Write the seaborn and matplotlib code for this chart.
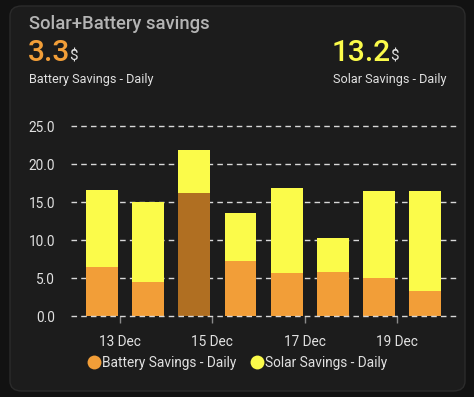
"""Solar + battery daily savings card, stacked bars on a dark dashboard theme."""

import pandas as pd
import matplotlib.pyplot as plt
from matplotlib.patches import FancyBboxPatch
from matplotlib.lines import Line2D
import seaborn as sns

# data
days = ["12 Dec", "13 Dec", "14 Dec", "15 Dec", "16 Dec", "17 Dec", "18 Dec", "19 Dec"]
battery = [6.4, 4.5, 16.2, 7.3, 5.6, 5.8, 5.0, 3.3]
solar = [10.2, 10.5, 5.6, 6.2, 11.2, 4.5, 11.5, 13.2]
tick_days = ["13 Dec", "15 Dec", "17 Dec", "19 Dec"]
y_ticks = [0, 5, 10, 15, 20, 25]
highlight_day = "14 Dec"

ORANGE = "#f29e38"
YELLOW = "#fbfb4a"
DARK = "#b06f22"
BG = "#121212"
CARD = "#1c1c1c"
TEXT = "#e1e1e1"

df = pd.DataFrame({"day": days, "battery": battery, "solar": solar})
df["total"] = df["battery"] + df["solar"]

sns.set_theme(style="dark")
plt.rcParams["font.family"] = ["Roboto", "DejaVu Sans"]

fig = plt.figure(figsize=(4.74, 3.97), dpi=100, facecolor=BG)

# card background
card = FancyBboxPatch((10 / 474, 6 / 397), 455 / 474, 385 / 397,
                      boxstyle="round,pad=0,rounding_size=0.025",
                      transform=fig.transFigure, facecolor=CARD,
                      edgecolor="#2b2b2b", linewidth=1.0, zorder=-10)
fig.patches.append(card)

# header texts
fig.text(29 / 474, 1 - 24 / 397, "Solar+Battery savings", color="#b4b4b4",
         fontsize=13.3, fontweight="medium", va="center", ha="left")
fig.text(28 / 474, 1 - 53 / 397, f"{battery[-1]:.1f}", color=ORANGE,
         fontsize=21.5, fontweight="medium", va="center", ha="left")
fig.text(69 / 474, 1 - 57 / 397, "$", color=TEXT, fontsize=11, va="center", ha="left")
fig.text(29 / 474, 1 - 80 / 397, "Battery Savings - Daily", color=TEXT,
         fontsize=9.1, va="center", ha="left")
fig.text(332 / 474, 1 - 53 / 397, f"{solar[-1]:.1f}", color=YELLOW,
         fontsize=21.5, fontweight="medium", va="center", ha="left")
fig.text(390 / 474, 1 - 57 / 397, "$", color=TEXT, fontsize=11, va="center", ha="left")
fig.text(333 / 474, 1 - 80 / 397, "Solar Savings - Daily", color=TEXT,
         fontsize=9.1, va="center", ha="left")

ax = fig.add_axes([71 / 474, 81 / 397, 386 / 474, 190 / 397])
ax.set_facecolor("none")

# stacked bars: total first (solar colour), battery drawn over it
sns.barplot(data=df, x="day", y="total", order=days, color=YELLOW,
            width=0.69, saturation=1, ax=ax, zorder=3)
bat_colors = [DARK if d == highlight_day else ORANGE for d in days]
sns.barplot(data=df, x="day", y="battery", order=days, hue="day",
            palette=bat_colors, legend=False, width=0.69, saturation=1,
            ax=ax, zorder=4)
for p in ax.patches:
    p.set_edgecolor("none")

ax.set_xlim(-0.67, 7.69)
ax.set_ylim(0, 25)
ax.set_yticks(y_ticks)
ax.set_yticklabels([f"{v:.1f}" for v in y_ticks], color=TEXT, fontsize=9.8)
for v in y_ticks:
    ax.axhline(v, color="#d8d8d8", lw=1.0, ls=(0, (4, 3)),
               zorder=5 if v == 0 else 1, clip_on=False)

# date ticks sit at midnight, a bit left of the next day's bar
tick_pos = [days.index(d) - 0.61 for d in tick_days]
ax.set_xticks(tick_pos)
ax.set_xticklabels(tick_days, color=TEXT, fontsize=9.8)
ax.tick_params(axis="x", length=5, width=1, color="#8a8a8a", pad=9, bottom=True)
ax.tick_params(axis="y", length=0, pad=11.5)
ax.set_xlabel("")
ax.set_ylabel("")
ax.grid(False)
for s in ax.spines.values():
    s.set_visible(False)

handles = [
    Line2D([], [], marker="o", ls="none", markersize=10, markerfacecolor=ORANGE,
           markeredgecolor="none", label="Battery Savings - Daily"),
    Line2D([], [], marker="o", ls="none", markersize=10, markerfacecolor=YELLOW,
           markeredgecolor="none", label="Solar Savings - Daily"),
]
fig.legend(handles=handles, loc="center", bbox_to_anchor=(237 / 474, 1 - 363 / 397),
           ncol=2, frameon=False, fontsize=9.8, labelcolor=TEXT, handletextpad=0.1,
           columnspacing=1.0, handlelength=1.0)

fig.savefig("out.png", dpi=100, facecolor=BG)
